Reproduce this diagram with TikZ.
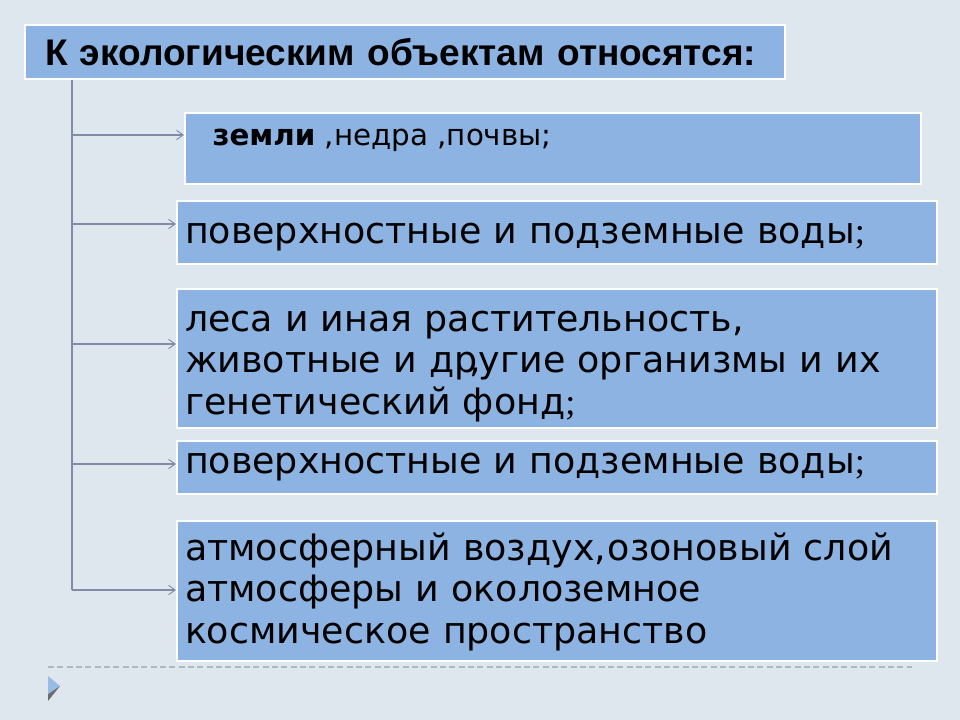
\documentclass[tikz,border=0pt]{standalone}
\usepackage{fontspec}
\setmainfont{DejaVu Sans}
\newfontfamily\headfont{Liberation Sans}
\newfontfamily\semifont{Liberation Serif}
\usetikzlibrary{arrows.meta}

\definecolor{slidebg}{RGB}{222,231,237}
\definecolor{boxfill}{RGB}{141,179,226}
\definecolor{linkcol}{RGB}{128,140,166}
\definecolor{dashcol}{RGB}{176,184,192}

\tikzset{every picture/.style={line width=0.75pt}}
\tikzset{
  itembox/.style={rectangle, fill=boxfill, draw=white, line width=1.5pt, anchor=north west,
    inner xsep=6pt, inner ysep=0pt, align=left, font=\fontsize{27.3}{31}\selectfont},
  link/.style={color=linkcol, line width=0.9pt, -{Straight Barb[length=5pt,width=7pt,line width=0.7pt]}}
}

\begin{document}
\begin{tikzpicture}[x=0.75pt,y=0.75pt,yscale=-1,xscale=1]
%set diagram left start at 0, and has height of 720
\useasboundingbox (0,0) rectangle (960,720);
\fill [slidebg] (0,0) rectangle (960,720);

%Shape: Rectangle [title]
\node [itembox, minimum width=570pt, minimum height=40.5pt, text width=558pt,
  font=\headfont\bfseries\fontsize{27.8}{30}\selectfont] (title) at (24,24) {\hspace*{9pt}К экологическим объектам относятся:};

%Shape: Rectangle [b1]
\node [itembox, minimum width=552pt, minimum height=53.25pt, text width=540pt] (b1) at (184,112) {};
% Text Node
\node [anchor=north west, inner sep=0pt, font=\fontsize{22}{26}\selectfont] (b1text) at (212,129) {\textbf{земли} ,недра ,почвы;};

%Shape: Rectangle [b2]
\node [itembox, minimum width=570pt, minimum height=47.25pt, text width=558pt] (b2) at (176,200)
  {\rule{0pt}{22pt}поверхностные и подземные воды{\semifont;}};

%Shape: Rectangle [b3]
\node [itembox, minimum width=570pt, minimum height=104.25pt, text width=558pt] (b3) at (176,288)
  {\rule{0pt}{27pt}леса и иная растительность,\\животные и др\kern-0.22em,\kern-0.06emугие организмы и их\\генетический фонд{\semifont;}};

%Shape: Rectangle [b4]
\node [itembox, minimum width=570pt, minimum height=39.75pt, text width=558pt] (b4) at (176,440)
  {поверхностные и подземные воды{\semifont;}};

%Shape: Rectangle [b5]
\node [itembox, minimum width=570pt, minimum height=105pt, text width=558pt] (b5) at (176,520)
  {\rule{0pt}{22pt}атмосферный воздух,\kern0.05emозоновый слой\\атмосферы и околоземное\\космическое пространство};

%Straight Lines [trunk]
\coordinate (j1) at (72,135);
\coordinate (j2) at (72,224);
\coordinate (j3) at (72,344);
\coordinate (j4) at (72,464);
\coordinate (j5) at (72,590);
\draw [color=linkcol, line width=0.9pt] (title.south west -| j1) -- (j5);
%Straight Lines [links]
\foreach \i in {1,...,5} {
  \draw [link] (j\i) -- (j\i -| b\i.west);
}

%Straight Lines [footer]
\draw [color=dashcol, line width=1.2pt, dash pattern=on 4.5pt off 2.5pt] (48,667) -- (912,667);
%Shape: Triangle [marker]
\fill [color=gray!85!black] (48,687) -- (60,686) -- (48,701) -- cycle;
\fill [color=boxfill!90!white] (48,676) -- (60,686) -- (48,694) -- cycle;

\end{tikzpicture}
\end{document}
